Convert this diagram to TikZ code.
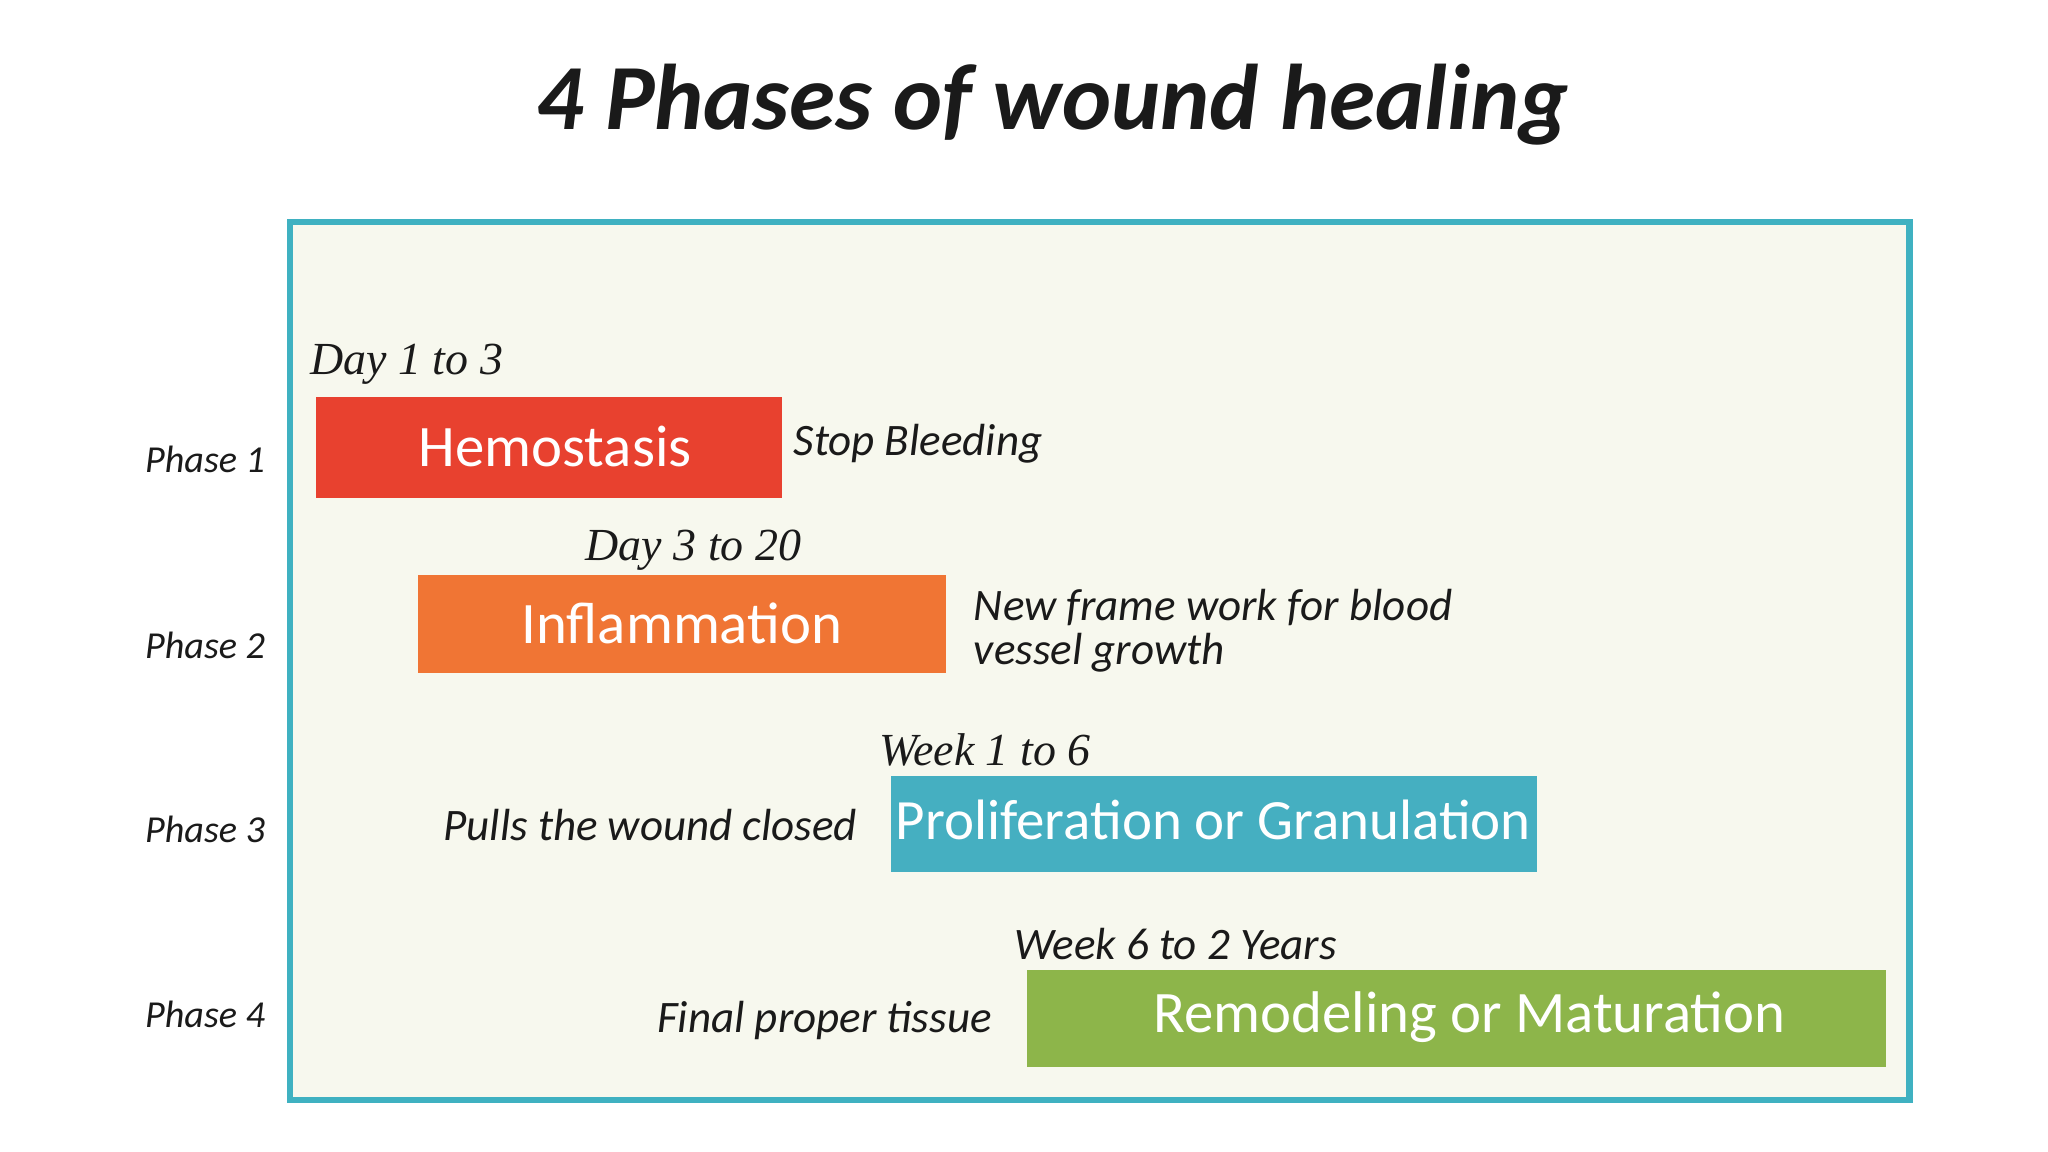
\documentclass[tikz,border=0pt]{standalone}
\usepackage{fontspec}
\setmainfont{Carlito}
\newfontfamily\serifit{Liberation Serif}
\definecolor{frameteal}{HTML}{3FB1C1}
\definecolor{cream}{HTML}{F7F8EE}
\definecolor{cred}{HTML}{E8412F}
\definecolor{corange}{HTML}{F07534}
\definecolor{cteal}{HTML}{45AFC1}
\definecolor{cgreen}{HTML}{8DB54A}
\definecolor{ink}{HTML}{1A1A1A}
\begin{document}
\begin{tikzpicture}[x=0.01cm,y=-0.01cm,
  bar/.style={draw=none,inner sep=0pt,text=white,font=\fontsize{12.8}{15}\selectfont},
  phase/.style={font=\itshape\fontsize{8.3}{10}\selectfont,text=ink},
  desc/.style={font=\itshape\fontsize{9.8}{12}\selectfont,text=ink,inner sep=0pt},
  time/.style={font=\serifit\itshape\fontsize{10}{12}\selectfont,text=ink,inner sep=0pt}]
\useasboundingbox[fill=white] (0,0) rectangle (1568,882);
\node[font=\bfseries\itshape\fontsize{20.3}{24}\selectfont,text=ink] (title) at (806,80) {4 Phases of wound healing};
\draw[frameteal,line width=1.4pt,fill=cream] (222,170) rectangle (1462,842);
\path[fill=cred] (242,304) rectangle (599,381);
\node[bar] (b1) at (425,342) {Hemostasis};
\path[fill=corange] (320,440) rectangle (724,515);
\node[bar] (b2) at (522,477) {Inflammation};
\path[fill=cteal] (682,594) rectangle (1177,668);
\node[bar,font=\fontsize{12.4}{15}\selectfont] (b3) at (929,628) {Proliferation or Granulation};
\path[fill=cgreen] (786,743) rectangle (1444,817);
\node[bar] (b4) at (1125,779) {Remodeling or Maturation};
\node[phase] (p1) at (157,352) {Phase 1};
\node[phase] (p2) at (157,494) {Phase 2};
\node[phase] (p3) at (157,635) {Phase 3};
\node[phase] (p4) at (157,777) {Phase 4};
\node[time,anchor=west] (t1) at (237,279) {Day 1 to 3};
\node[time] (t2) at (531,421) {Day 3 to 20};
\node[time] (t3) at (754,574) {Week 1 to 6};
\node[desc] (t4) at (900,723) {Week 6 to 2 Years};
\node[desc,anchor=west] (d1) at (607,340) {Stop Bleeding};
\node[desc,anchor=west] (d2a) at (745,465) {New frame work for blood};
\node[desc,anchor=west] (d2b) at (745,500) {vessel growth};
\node[desc,anchor=east] (d3) at (657,632) {Pulls the wound closed};
\node[desc,anchor=east] (d4) at (760,781) {Final proper tissue};
\end{tikzpicture}
\end{document}
